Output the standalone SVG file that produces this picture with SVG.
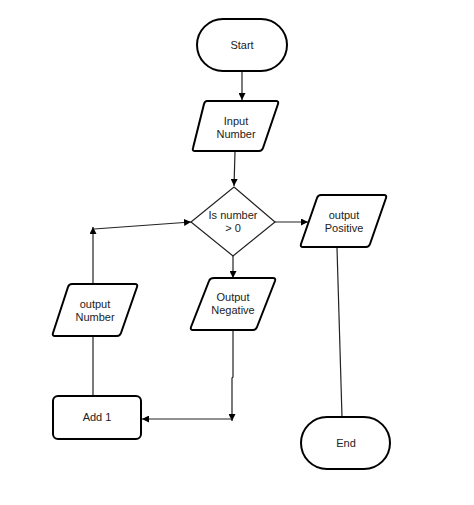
<svg xmlns="http://www.w3.org/2000/svg" width="474" height="505" viewBox="0 0 474 505">
<defs>
<style>
.sh{fill:#fff;stroke:#000;stroke-width:2;stroke-linejoin:round}
.dm{fill:#fff;stroke:#222;stroke-width:1.2}
.t{font-family:"Liberation Sans",Arial,sans-serif;font-size:11px;fill:#222;text-anchor:middle}
.c{fill:none;stroke:#222;stroke-width:1.2}
</style>
<marker id="a" viewBox="0 0 10 10" refX="10" refY="5" markerWidth="7" markerHeight="7" orient="auto" markerUnits="userSpaceOnUse">
<path d="M0,0 L10,5 L0,10 Z" fill="#000"/>
</marker>
</defs>
<rect width="474" height="505" fill="#fff"/>
<g id="connectors">
<path class="c" d="M242,71 L242,100" marker-end="url(#a)"/>
<path class="c" d="M235,152 L234,186" marker-end="url(#a)"/>
<path class="c" d="M275,222 L308,222" marker-end="url(#a)"/>
<path class="c" d="M233,256 L233,278" marker-end="url(#a)"/>
<path class="c" d="M93,284 L93,227" marker-end="url(#a)"/>
<path class="c" d="M94,229 L191,222" marker-end="url(#a)"/>
<path class="c" d="M93,336 L93,395"/>
<path class="c" d="M233,330 L233,377 L232,378 L232,421" marker-end="url(#a)"/>
<path class="c" d="M232,419 L142,419" marker-end="url(#a)"/>
<path class="c" d="M337,248 L342,417"/>
</g>
<g id="start">
<rect class="sh" x="197" y="19" width="90" height="52" rx="26"/>
<text class="t" x="242" y="49">Start</text>
</g>
<g id="input">
<path class="sh" d="M207,101 L276,101 Q279,101 278,104 L263,148 Q262,151 259,151 L195,151 Q192,151 193,148 L204,104 Q205,101 207,101 Z"/>
<text class="t" x="236" y="125">Input</text>
<text class="t" x="236" y="138">Number</text>
</g>
<g id="decision">
<path class="dm" d="M234,187 L275,222 L233,256 L191,222 Z"/>
<text class="t" x="233" y="219">Is number</text>
<text class="t" x="233" y="232">&gt; 0</text>
</g>
<g id="positive">
<path class="sh" d="M321,195 L384,195 Q387,195 386,198 L370,244 Q369,247 366,247 L303,247 Q300,247 301,244 L317,198 Q318,195 321,195 Z"/>
<text class="t" x="344" y="219">output</text>
<text class="t" x="344" y="232">Positive</text>
</g>
<g id="negative">
<path class="sh" d="M214,278 L273,278 Q276,278 275,281 L257,327 Q256,330 253,330 L193,330 Q190,330 191,327 L209,281 Q210,278 214,278 Z"/>
<text class="t" x="233" y="301">Output</text>
<text class="t" x="233" y="314">Negative</text>
</g>
<g id="outnumber">
<path class="sh" d="M72,284 L135,284 Q138,284 137,287 L121,333 Q120,336 117,336 L55,336 Q52,336 53,333 L68,287 Q69,284 72,284 Z"/>
<text class="t" x="95" y="308">output</text>
<text class="t" x="95" y="321">Number</text>
</g>
<g id="add1">
<rect class="sh" x="53" y="396" width="88" height="43" rx="5"/>
<text class="t" x="97" y="421">Add 1</text>
</g>
<g id="end">
<rect class="sh" x="301" y="417" width="89" height="52" rx="26"/>
<text class="t" x="346" y="447">End</text>
</g>
</svg>
